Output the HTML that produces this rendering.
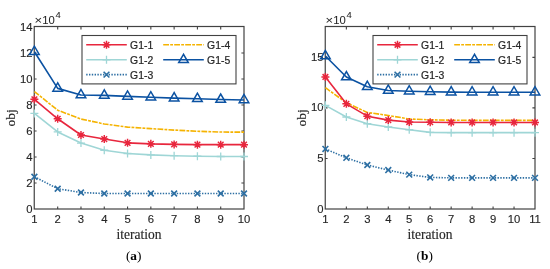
<!DOCTYPE html>
<html><head><meta charset="utf-8"><title>Convergence of objective value</title>
<style>
html,body{margin:0;padding:0;background:#fff;}
body{width:550px;height:269px;overflow:hidden;}
svg{display:block;}
</style></head><body>
<svg width="550" height="269" viewBox="0 0 550 269">
<rect width="550" height="269" fill="#fff"/>
<rect x="34.25" y="26.5" width="209.75" height="182.5" fill="none" stroke="#424242" stroke-width="1.2"/>
<path d="M57.69 209V206.4M57.69 27V29.6M80.98 209V206.4M80.98 27V29.6M104.27 209V206.4M104.27 27V29.6M127.56 209V206.4M127.56 27V29.6M150.84 209V206.4M150.84 27V29.6M174.13 209V206.4M174.13 27V29.6M197.42 209V206.4M197.42 27V29.6M220.71 209V206.4M220.71 27V29.6M34 183H36.6M244 183H241.4M34 157H36.6M244 157H241.4M34 131H36.6M244 131H241.4M34 105H36.6M244 105H241.4M34 79H36.6M244 79H241.4M34 53H36.6M244 53H241.4" stroke="#424242" stroke-width="1.1" fill="none"/>
<g font-family="Liberation Sans, Arial, sans-serif" font-size="10" fill="#262626" stroke="#262626" stroke-width="0.12">
<text transform="translate(34.4 222.6) scale(1.13 1)" text-anchor="middle">1</text>
<text transform="translate(57.69 222.6) scale(1.13 1)" text-anchor="middle">2</text>
<text transform="translate(80.98 222.6) scale(1.13 1)" text-anchor="middle">3</text>
<text transform="translate(104.27 222.6) scale(1.13 1)" text-anchor="middle">4</text>
<text transform="translate(127.56 222.6) scale(1.13 1)" text-anchor="middle">5</text>
<text transform="translate(150.84 222.6) scale(1.13 1)" text-anchor="middle">6</text>
<text transform="translate(174.13 222.6) scale(1.13 1)" text-anchor="middle">7</text>
<text transform="translate(197.42 222.6) scale(1.13 1)" text-anchor="middle">8</text>
<text transform="translate(220.71 222.6) scale(1.13 1)" text-anchor="middle">9</text>
<text transform="translate(244 222.6) scale(1.13 1)" text-anchor="middle">10</text>
<text transform="translate(32.5 212.6) scale(1.13 1)" text-anchor="end">0</text>
<text transform="translate(32.5 186.6) scale(1.13 1)" text-anchor="end">2</text>
<text transform="translate(32.5 160.6) scale(1.13 1)" text-anchor="end">4</text>
<text transform="translate(32.5 134.6) scale(1.13 1)" text-anchor="end">6</text>
<text transform="translate(32.5 108.6) scale(1.13 1)" text-anchor="end">8</text>
<text transform="translate(32.5 82.6) scale(1.13 1)" text-anchor="end">10</text>
<text transform="translate(32.5 56.6) scale(1.13 1)" text-anchor="end">12</text>
<text transform="translate(32.5 30.6) scale(1.13 1)" text-anchor="end">14</text>
<text transform="translate(34.6 24.1) scale(1.13 1)" stroke-width="0.04"><tspan font-size="11.5" dy="0.3" stroke-width="0.05">×</tspan><tspan dy="-0.3">10</tspan><tspan font-size="8.4" dx="0.6" dy="-6.1">4</tspan></text>
</g>
<polyline points="34.4,91.61 57.69,110.2 80.98,119.04 104.27,123.98 127.56,127.1 150.84,128.66 174.13,130.09 197.42,131.26 220.71,132.04 244,132.17" fill="none" stroke="#f5b301" stroke-width="1.6" stroke-linejoin="round" stroke-dasharray="5.8,1.2,2.8,1.2"/>
<polyline points="34.4,176.76 57.69,188.72 80.98,192.49 104.27,193.53 127.56,193.53 150.84,193.53 174.13,193.53 197.42,193.53 220.71,193.53 244,193.53" fill="none" stroke="#2d6fa3" stroke-width="1.6" stroke-linejoin="round" stroke-dasharray="1.4,1.4"/>
<path d="M31.5 173.86L37.3 179.66M31.5 179.66L37.3 173.86" stroke="#2d6fa3" stroke-width="1.6" fill="none"/>
<path d="M54.79 185.82L60.59 191.62M54.79 191.62L60.59 185.82" stroke="#2d6fa3" stroke-width="1.6" fill="none"/>
<path d="M78.08 189.59L83.88 195.39M78.08 195.39L83.88 189.59" stroke="#2d6fa3" stroke-width="1.6" fill="none"/>
<path d="M101.37 190.63L107.17 196.43M101.37 196.43L107.17 190.63" stroke="#2d6fa3" stroke-width="1.6" fill="none"/>
<path d="M124.66 190.63L130.46 196.43M124.66 196.43L130.46 190.63" stroke="#2d6fa3" stroke-width="1.6" fill="none"/>
<path d="M147.94 190.63L153.74 196.43M147.94 196.43L153.74 190.63" stroke="#2d6fa3" stroke-width="1.6" fill="none"/>
<path d="M171.23 190.63L177.03 196.43M171.23 196.43L177.03 190.63" stroke="#2d6fa3" stroke-width="1.6" fill="none"/>
<path d="M194.52 190.63L200.32 196.43M194.52 196.43L200.32 190.63" stroke="#2d6fa3" stroke-width="1.6" fill="none"/>
<path d="M217.81 190.63L223.61 196.43M217.81 196.43L223.61 190.63" stroke="#2d6fa3" stroke-width="1.6" fill="none"/>
<path d="M241.1 190.63L246.9 196.43M241.1 196.43L246.9 190.63" stroke="#2d6fa3" stroke-width="1.6" fill="none"/>
<polyline points="34.4,113.45 57.69,131.91 80.98,143.09 104.27,150.24 127.56,153.49 150.84,154.92 174.13,155.7 197.42,156.22 220.71,156.48 244,156.48" fill="none" stroke="#9fd6d6" stroke-width="1.6" stroke-linejoin="round"/>
<path d="M30.4 113.45L38.4 113.45M34.4 109.45L34.4 117.45" stroke="#9fd6d6" stroke-width="1.3" fill="none"/>
<path d="M53.69 131.91L61.69 131.91M57.69 127.91L57.69 135.91" stroke="#9fd6d6" stroke-width="1.3" fill="none"/>
<path d="M76.98 143.09L84.98 143.09M80.98 139.09L80.98 147.09" stroke="#9fd6d6" stroke-width="1.3" fill="none"/>
<path d="M100.27 150.24L108.27 150.24M104.27 146.24L104.27 154.24" stroke="#9fd6d6" stroke-width="1.3" fill="none"/>
<path d="M123.56 153.49L131.56 153.49M127.56 149.49L127.56 157.49" stroke="#9fd6d6" stroke-width="1.3" fill="none"/>
<path d="M146.84 154.92L154.84 154.92M150.84 150.92L150.84 158.92" stroke="#9fd6d6" stroke-width="1.3" fill="none"/>
<path d="M170.13 155.7L178.13 155.7M174.13 151.7L174.13 159.7" stroke="#9fd6d6" stroke-width="1.3" fill="none"/>
<path d="M193.42 156.22L201.42 156.22M197.42 152.22L197.42 160.22" stroke="#9fd6d6" stroke-width="1.3" fill="none"/>
<path d="M216.71 156.48L224.71 156.48M220.71 152.48L220.71 160.48" stroke="#9fd6d6" stroke-width="1.3" fill="none"/>
<path d="M240 156.48L248 156.48M244 152.48L244 160.48" stroke="#9fd6d6" stroke-width="1.3" fill="none"/>
<polyline points="34.4,99.28 57.69,118.78 80.98,135.03 104.27,139.06 127.56,142.83 150.84,143.87 174.13,144.39 197.42,144.65 220.71,144.65 244,144.65" fill="none" stroke="#e8263d" stroke-width="1.6" stroke-linejoin="round"/>
<path d="M30.4 99.28L38.4 99.28M31.57 96.45L37.23 102.11M34.4 95.28L34.4 103.28M37.23 96.45L31.57 102.11" stroke="#e8263d" stroke-width="1.45" fill="none"/>
<path d="M53.69 118.78L61.69 118.78M54.86 115.95L60.52 121.61M57.69 114.78L57.69 122.78M60.52 115.95L54.86 121.61" stroke="#e8263d" stroke-width="1.45" fill="none"/>
<path d="M76.98 135.03L84.98 135.03M78.15 132.2L83.81 137.86M80.98 131.03L80.98 139.03M83.81 132.2L78.15 137.86" stroke="#e8263d" stroke-width="1.45" fill="none"/>
<path d="M100.27 139.06L108.27 139.06M101.44 136.23L107.1 141.89M104.27 135.06L104.27 143.06M107.1 136.23L101.44 141.89" stroke="#e8263d" stroke-width="1.45" fill="none"/>
<path d="M123.56 142.83L131.56 142.83M124.73 140L130.38 145.66M127.56 138.83L127.56 146.83M130.38 140L124.73 145.66" stroke="#e8263d" stroke-width="1.45" fill="none"/>
<path d="M146.84 143.87L154.84 143.87M148.02 141.04L153.67 146.7M150.84 139.87L150.84 147.87M153.67 141.04L148.02 146.7" stroke="#e8263d" stroke-width="1.45" fill="none"/>
<path d="M170.13 144.39L178.13 144.39M171.3 141.56L176.96 147.22M174.13 140.39L174.13 148.39M176.96 141.56L171.3 147.22" stroke="#e8263d" stroke-width="1.45" fill="none"/>
<path d="M193.42 144.65L201.42 144.65M194.59 141.82L200.25 147.48M197.42 140.65L197.42 148.65M200.25 141.82L194.59 147.48" stroke="#e8263d" stroke-width="1.45" fill="none"/>
<path d="M216.71 144.65L224.71 144.65M217.88 141.82L223.54 147.48M220.71 140.65L220.71 148.65M223.54 141.82L217.88 147.48" stroke="#e8263d" stroke-width="1.45" fill="none"/>
<path d="M240 144.65L248 144.65M241.17 141.82L246.83 147.48M244 140.65L244 148.65M246.83 141.82L241.17 147.48" stroke="#e8263d" stroke-width="1.45" fill="none"/>
<polyline points="34.4,51.7 57.69,88.36 80.98,94.99 104.27,95.38 127.56,96.42 150.84,97.2 174.13,98.11 197.42,98.76 220.71,99.54 244,99.93" fill="none" stroke="#0b52a2" stroke-width="1.6" stroke-linejoin="round"/>
<path d="M34.4 46.16L29.6 54.47L39.2 54.47Z" stroke="#0b52a2" stroke-width="1.5" fill="none" stroke-linejoin="miter"/>
<path d="M57.69 82.82L52.89 91.13L62.49 91.13Z" stroke="#0b52a2" stroke-width="1.5" fill="none" stroke-linejoin="miter"/>
<path d="M80.98 89.45L76.18 97.76L85.78 97.76Z" stroke="#0b52a2" stroke-width="1.5" fill="none" stroke-linejoin="miter"/>
<path d="M104.27 89.84L99.47 98.15L109.07 98.15Z" stroke="#0b52a2" stroke-width="1.5" fill="none" stroke-linejoin="miter"/>
<path d="M127.56 90.88L122.76 99.19L132.36 99.19Z" stroke="#0b52a2" stroke-width="1.5" fill="none" stroke-linejoin="miter"/>
<path d="M150.84 91.66L146.04 99.97L155.64 99.97Z" stroke="#0b52a2" stroke-width="1.5" fill="none" stroke-linejoin="miter"/>
<path d="M174.13 92.57L169.33 100.88L178.93 100.88Z" stroke="#0b52a2" stroke-width="1.5" fill="none" stroke-linejoin="miter"/>
<path d="M197.42 93.22L192.62 101.53L202.22 101.53Z" stroke="#0b52a2" stroke-width="1.5" fill="none" stroke-linejoin="miter"/>
<path d="M220.71 94L215.91 102.31L225.51 102.31Z" stroke="#0b52a2" stroke-width="1.5" fill="none" stroke-linejoin="miter"/>
<path d="M244 94.39L239.2 102.7L248.8 102.7Z" stroke="#0b52a2" stroke-width="1.5" fill="none" stroke-linejoin="miter"/>
<rect x="82" y="35.5" width="154" height="48.4" fill="#fff" stroke="#424242" stroke-width="1.1"/>
<path d="M86.2 44.8H126.8" stroke="#e8263d" stroke-width="1.6" fill="none"/>
<path d="M102.5 44.8L110.5 44.8M103.67 41.97L109.33 47.63M106.5 40.8L106.5 48.8M109.33 41.97L103.67 47.63" stroke="#e8263d" stroke-width="1.45" fill="none"/>
<text transform="translate(130.1 48.7) scale(1.04 1)" font-family="Liberation Sans, Arial, sans-serif" font-size="10" fill="#262626" stroke="#262626" stroke-width="0.2">G1-1</text>
<path d="M86.2 59.8H126.8" stroke="#9fd6d6" stroke-width="1.6" fill="none"/>
<path d="M102.5 59.8L110.5 59.8M106.5 55.8L106.5 63.8" stroke="#9fd6d6" stroke-width="1.3" fill="none"/>
<text transform="translate(130.1 63.7) scale(1.04 1)" font-family="Liberation Sans, Arial, sans-serif" font-size="10" fill="#262626" stroke="#262626" stroke-width="0.2">G1-2</text>
<path d="M86.2 74.6H126.8" stroke="#2d6fa3" stroke-width="1.6" fill="none" stroke-dasharray="1.4,1.4"/>
<path d="M103.6 71.7L109.4 77.5M103.6 77.5L109.4 71.7" stroke="#2d6fa3" stroke-width="1.6" fill="none"/>
<text transform="translate(130.1 78.5) scale(1.04 1)" font-family="Liberation Sans, Arial, sans-serif" font-size="10" fill="#262626" stroke="#262626" stroke-width="0.2">G1-3</text>
<path d="M163.2 44.8H203.8" stroke="#f5b301" stroke-width="1.6" fill="none" stroke-dasharray="5.8,1.2,2.8,1.2"/>
<text transform="translate(207.1 48.7) scale(1.04 1)" font-family="Liberation Sans, Arial, sans-serif" font-size="10" fill="#262626" stroke="#262626" stroke-width="0.2">G1-4</text>
<path d="M163.2 59.8H203.8" stroke="#0b52a2" stroke-width="1.6" fill="none"/>
<path d="M183.5 54.26L178.7 62.57L188.3 62.57Z" stroke="#0b52a2" stroke-width="1.5" fill="none" stroke-linejoin="miter"/>
<text transform="translate(207.1 63.7) scale(1.04 1)" font-family="Liberation Sans, Arial, sans-serif" font-size="10" fill="#262626" stroke="#262626" stroke-width="0.2">G1-5</text>
<text transform="translate(15.3 117.8) rotate(-90)" text-anchor="middle" font-family="Liberation Serif, Times New Roman, serif" font-size="13.5" fill="#262626" stroke="#262626" stroke-width="0.2">obj</text>
<text transform="translate(139 238.9) scale(0.965 1)" text-anchor="middle" font-family="Liberation Serif, Times New Roman, serif" font-size="14" fill="#262626" stroke="#262626" stroke-width="0.15">iteration</text>
<text x="133.7" y="260.1" text-anchor="middle" font-family="Liberation Serif, Times New Roman, serif" font-size="13.3" fill="#000">(<tspan font-weight="bold">a</tspan>)</text>
<rect x="325.25" y="26.5" width="209.75" height="182.5" fill="none" stroke="#424242" stroke-width="1.2"/>
<path d="M346.36 209V206.4M346.36 27V29.6M367.32 209V206.4M367.32 27V29.6M388.28 209V206.4M388.28 27V29.6M409.24 209V206.4M409.24 27V29.6M430.2 209V206.4M430.2 27V29.6M451.16 209V206.4M451.16 27V29.6M472.12 209V206.4M472.12 27V29.6M493.08 209V206.4M493.08 27V29.6M514.04 209V206.4M514.04 27V29.6M325 158.44H327.6M535 158.44H532.4M325 107.89H327.6M535 107.89H532.4M325 57.33H327.6M535 57.33H532.4" stroke="#424242" stroke-width="1.1" fill="none"/>
<g font-family="Liberation Sans, Arial, sans-serif" font-size="10" fill="#262626" stroke="#262626" stroke-width="0.12">
<text transform="translate(325.4 222.6) scale(1.13 1)" text-anchor="middle">1</text>
<text transform="translate(346.36 222.6) scale(1.13 1)" text-anchor="middle">2</text>
<text transform="translate(367.32 222.6) scale(1.13 1)" text-anchor="middle">3</text>
<text transform="translate(388.28 222.6) scale(1.13 1)" text-anchor="middle">4</text>
<text transform="translate(409.24 222.6) scale(1.13 1)" text-anchor="middle">5</text>
<text transform="translate(430.2 222.6) scale(1.13 1)" text-anchor="middle">6</text>
<text transform="translate(451.16 222.6) scale(1.13 1)" text-anchor="middle">7</text>
<text transform="translate(472.12 222.6) scale(1.13 1)" text-anchor="middle">8</text>
<text transform="translate(493.08 222.6) scale(1.13 1)" text-anchor="middle">9</text>
<text transform="translate(514.04 222.6) scale(1.13 1)" text-anchor="middle">10</text>
<text transform="translate(535 222.6) scale(1.13 1)" text-anchor="middle">11</text>
<text transform="translate(323.5 212.6) scale(1.13 1)" text-anchor="end">0</text>
<text transform="translate(323.5 162.04) scale(1.13 1)" text-anchor="end">5</text>
<text transform="translate(323.5 111.49) scale(1.13 1)" text-anchor="end">10</text>
<text transform="translate(323.5 60.93) scale(1.13 1)" text-anchor="end">15</text>
<text transform="translate(325.6 24.1) scale(1.13 1)" stroke-width="0.04"><tspan font-size="11.5" dy="0.3" stroke-width="0.05">×</tspan><tspan dy="-0.3">10</tspan><tspan font-size="8.4" dx="0.6" dy="-6.1">4</tspan></text>
</g>
<polyline points="325.4,87.67 346.36,102.83 367.32,112.44 388.28,115.47 409.24,119.01 430.2,119.82 451.16,120.22 472.12,120.33 493.08,120.33 514.04,120.33 535,120.33" fill="none" stroke="#f5b301" stroke-width="1.6" stroke-linejoin="round" stroke-dasharray="5.8,1.2,2.8,1.2"/>
<polyline points="325.4,148.94 346.36,157.84 367.32,165.02 388.28,170.07 409.24,174.62 430.2,177.45 451.16,177.86 472.12,177.86 493.08,177.86 514.04,177.86 535,177.86" fill="none" stroke="#2d6fa3" stroke-width="1.6" stroke-linejoin="round" stroke-dasharray="1.4,1.4"/>
<path d="M322.5 146.04L328.3 151.84M322.5 151.84L328.3 146.04" stroke="#2d6fa3" stroke-width="1.6" fill="none"/>
<path d="M343.46 154.94L349.26 160.74M343.46 160.74L349.26 154.94" stroke="#2d6fa3" stroke-width="1.6" fill="none"/>
<path d="M364.42 162.12L370.22 167.92M364.42 167.92L370.22 162.12" stroke="#2d6fa3" stroke-width="1.6" fill="none"/>
<path d="M385.38 167.17L391.18 172.97M385.38 172.97L391.18 167.17" stroke="#2d6fa3" stroke-width="1.6" fill="none"/>
<path d="M406.34 171.72L412.14 177.52M406.34 177.52L412.14 171.72" stroke="#2d6fa3" stroke-width="1.6" fill="none"/>
<path d="M427.3 174.55L433.1 180.35M427.3 180.35L433.1 174.55" stroke="#2d6fa3" stroke-width="1.6" fill="none"/>
<path d="M448.26 174.96L454.06 180.76M448.26 180.76L454.06 174.96" stroke="#2d6fa3" stroke-width="1.6" fill="none"/>
<path d="M469.22 174.96L475.02 180.76M469.22 180.76L475.02 174.96" stroke="#2d6fa3" stroke-width="1.6" fill="none"/>
<path d="M490.18 174.96L495.98 180.76M490.18 180.76L495.98 174.96" stroke="#2d6fa3" stroke-width="1.6" fill="none"/>
<path d="M511.14 174.96L516.94 180.76M511.14 180.76L516.94 174.96" stroke="#2d6fa3" stroke-width="1.6" fill="none"/>
<path d="M532.1 174.96L537.9 180.76M532.1 180.76L537.9 174.96" stroke="#2d6fa3" stroke-width="1.6" fill="none"/>
<polyline points="325.4,105.36 346.36,116.99 367.32,123.76 388.28,127 409.24,129.73 430.2,132.36 451.16,132.66 472.12,132.66 493.08,132.66 514.04,132.66 535,132.66" fill="none" stroke="#9fd6d6" stroke-width="1.6" stroke-linejoin="round"/>
<path d="M321.4 105.36L329.4 105.36M325.4 101.36L325.4 109.36" stroke="#9fd6d6" stroke-width="1.3" fill="none"/>
<path d="M342.36 116.99L350.36 116.99M346.36 112.99L346.36 120.99" stroke="#9fd6d6" stroke-width="1.3" fill="none"/>
<path d="M363.32 123.76L371.32 123.76M367.32 119.76L367.32 127.76" stroke="#9fd6d6" stroke-width="1.3" fill="none"/>
<path d="M384.28 127L392.28 127M388.28 123L388.28 131" stroke="#9fd6d6" stroke-width="1.3" fill="none"/>
<path d="M405.24 129.73L413.24 129.73M409.24 125.73L409.24 133.73" stroke="#9fd6d6" stroke-width="1.3" fill="none"/>
<path d="M426.2 132.36L434.2 132.36M430.2 128.36L430.2 136.36" stroke="#9fd6d6" stroke-width="1.3" fill="none"/>
<path d="M447.16 132.66L455.16 132.66M451.16 128.66L451.16 136.66" stroke="#9fd6d6" stroke-width="1.3" fill="none"/>
<path d="M468.12 132.66L476.12 132.66M472.12 128.66L472.12 136.66" stroke="#9fd6d6" stroke-width="1.3" fill="none"/>
<path d="M489.08 132.66L497.08 132.66M493.08 128.66L493.08 136.66" stroke="#9fd6d6" stroke-width="1.3" fill="none"/>
<path d="M510.04 132.66L518.04 132.66M514.04 128.66L514.04 136.66" stroke="#9fd6d6" stroke-width="1.3" fill="none"/>
<path d="M531 132.66L539 132.66M535 128.66L535 136.66" stroke="#9fd6d6" stroke-width="1.3" fill="none"/>
<polyline points="325.4,76.95 346.36,103.84 367.32,116.18 388.28,120.12 409.24,122.04 430.2,122.25 451.16,122.45 472.12,122.45 493.08,122.45 514.04,122.45 535,122.45" fill="none" stroke="#e8263d" stroke-width="1.6" stroke-linejoin="round"/>
<path d="M321.4 76.95L329.4 76.95M322.57 74.12L328.23 79.78M325.4 72.95L325.4 80.95M328.23 74.12L322.57 79.78" stroke="#e8263d" stroke-width="1.45" fill="none"/>
<path d="M342.36 103.84L350.36 103.84M343.53 101.02L349.19 106.67M346.36 99.84L346.36 107.84M349.19 101.02L343.53 106.67" stroke="#e8263d" stroke-width="1.45" fill="none"/>
<path d="M363.32 116.18L371.32 116.18M364.49 113.35L370.15 119.01M367.32 112.18L367.32 120.18M370.15 113.35L364.49 119.01" stroke="#e8263d" stroke-width="1.45" fill="none"/>
<path d="M384.28 120.12L392.28 120.12M385.45 117.29L391.11 122.95M388.28 116.12L388.28 124.12M391.11 117.29L385.45 122.95" stroke="#e8263d" stroke-width="1.45" fill="none"/>
<path d="M405.24 122.04L413.24 122.04M406.41 119.22L412.07 124.87M409.24 118.04L409.24 126.04M412.07 119.22L406.41 124.87" stroke="#e8263d" stroke-width="1.45" fill="none"/>
<path d="M426.2 122.25L434.2 122.25M427.37 119.42L433.03 125.08M430.2 118.25L430.2 126.25M433.03 119.42L427.37 125.08" stroke="#e8263d" stroke-width="1.45" fill="none"/>
<path d="M447.16 122.45L455.16 122.45M448.33 119.62L453.99 125.28M451.16 118.45L451.16 126.45M453.99 119.62L448.33 125.28" stroke="#e8263d" stroke-width="1.45" fill="none"/>
<path d="M468.12 122.45L476.12 122.45M469.29 119.62L474.95 125.28M472.12 118.45L472.12 126.45M474.95 119.62L469.29 125.28" stroke="#e8263d" stroke-width="1.45" fill="none"/>
<path d="M489.08 122.45L497.08 122.45M490.25 119.62L495.91 125.28M493.08 118.45L493.08 126.45M495.91 119.62L490.25 125.28" stroke="#e8263d" stroke-width="1.45" fill="none"/>
<path d="M510.04 122.45L518.04 122.45M511.21 119.62L516.87 125.28M514.04 118.45L514.04 126.45M516.87 119.62L511.21 125.28" stroke="#e8263d" stroke-width="1.45" fill="none"/>
<path d="M531 122.45L539 122.45M532.17 119.62L537.83 125.28M535 118.45L535 126.45M537.83 119.62L532.17 125.28" stroke="#e8263d" stroke-width="1.45" fill="none"/>
<polyline points="325.4,56.02 346.36,77.05 367.32,86.76 388.28,90.5 409.24,91.21 430.2,91.71 451.16,92.12 472.12,92.22 493.08,92.22 514.04,92.22 535,92.22" fill="none" stroke="#0b52a2" stroke-width="1.6" stroke-linejoin="round"/>
<path d="M325.4 50.48L320.6 58.79L330.2 58.79Z" stroke="#0b52a2" stroke-width="1.5" fill="none" stroke-linejoin="miter"/>
<path d="M346.36 71.51L341.56 79.82L351.16 79.82Z" stroke="#0b52a2" stroke-width="1.5" fill="none" stroke-linejoin="miter"/>
<path d="M367.32 81.21L362.52 89.53L372.12 89.53Z" stroke="#0b52a2" stroke-width="1.5" fill="none" stroke-linejoin="miter"/>
<path d="M388.28 84.96L383.48 93.27L393.08 93.27Z" stroke="#0b52a2" stroke-width="1.5" fill="none" stroke-linejoin="miter"/>
<path d="M409.24 85.66L404.44 93.98L414.04 93.98Z" stroke="#0b52a2" stroke-width="1.5" fill="none" stroke-linejoin="miter"/>
<path d="M430.2 86.17L425.4 94.48L435 94.48Z" stroke="#0b52a2" stroke-width="1.5" fill="none" stroke-linejoin="miter"/>
<path d="M451.16 86.57L446.36 94.89L455.96 94.89Z" stroke="#0b52a2" stroke-width="1.5" fill="none" stroke-linejoin="miter"/>
<path d="M472.12 86.67L467.32 94.99L476.92 94.99Z" stroke="#0b52a2" stroke-width="1.5" fill="none" stroke-linejoin="miter"/>
<path d="M493.08 86.67L488.28 94.99L497.88 94.99Z" stroke="#0b52a2" stroke-width="1.5" fill="none" stroke-linejoin="miter"/>
<path d="M514.04 86.67L509.24 94.99L518.84 94.99Z" stroke="#0b52a2" stroke-width="1.5" fill="none" stroke-linejoin="miter"/>
<path d="M535 86.67L530.2 94.99L539.8 94.99Z" stroke="#0b52a2" stroke-width="1.5" fill="none" stroke-linejoin="miter"/>
<rect x="373" y="35.5" width="154" height="48.4" fill="#fff" stroke="#424242" stroke-width="1.1"/>
<path d="M377.2 44.8H417.8" stroke="#e8263d" stroke-width="1.6" fill="none"/>
<path d="M393.5 44.8L401.5 44.8M394.67 41.97L400.33 47.63M397.5 40.8L397.5 48.8M400.33 41.97L394.67 47.63" stroke="#e8263d" stroke-width="1.45" fill="none"/>
<text transform="translate(421.1 48.7) scale(1.04 1)" font-family="Liberation Sans, Arial, sans-serif" font-size="10" fill="#262626" stroke="#262626" stroke-width="0.2">G1-1</text>
<path d="M377.2 59.8H417.8" stroke="#9fd6d6" stroke-width="1.6" fill="none"/>
<path d="M393.5 59.8L401.5 59.8M397.5 55.8L397.5 63.8" stroke="#9fd6d6" stroke-width="1.3" fill="none"/>
<text transform="translate(421.1 63.7) scale(1.04 1)" font-family="Liberation Sans, Arial, sans-serif" font-size="10" fill="#262626" stroke="#262626" stroke-width="0.2">G1-2</text>
<path d="M377.2 74.6H417.8" stroke="#2d6fa3" stroke-width="1.6" fill="none" stroke-dasharray="1.4,1.4"/>
<path d="M394.6 71.7L400.4 77.5M394.6 77.5L400.4 71.7" stroke="#2d6fa3" stroke-width="1.6" fill="none"/>
<text transform="translate(421.1 78.5) scale(1.04 1)" font-family="Liberation Sans, Arial, sans-serif" font-size="10" fill="#262626" stroke="#262626" stroke-width="0.2">G1-3</text>
<path d="M454.2 44.8H494.8" stroke="#f5b301" stroke-width="1.6" fill="none" stroke-dasharray="5.8,1.2,2.8,1.2"/>
<text transform="translate(498.1 48.7) scale(1.04 1)" font-family="Liberation Sans, Arial, sans-serif" font-size="10" fill="#262626" stroke="#262626" stroke-width="0.2">G1-4</text>
<path d="M454.2 59.8H494.8" stroke="#0b52a2" stroke-width="1.6" fill="none"/>
<path d="M474.5 54.26L469.7 62.57L479.3 62.57Z" stroke="#0b52a2" stroke-width="1.5" fill="none" stroke-linejoin="miter"/>
<text transform="translate(498.1 63.7) scale(1.04 1)" font-family="Liberation Sans, Arial, sans-serif" font-size="10" fill="#262626" stroke="#262626" stroke-width="0.2">G1-5</text>
<text transform="translate(306.3 117.8) rotate(-90)" text-anchor="middle" font-family="Liberation Serif, Times New Roman, serif" font-size="13.5" fill="#262626" stroke="#262626" stroke-width="0.2">obj</text>
<text transform="translate(430 238.9) scale(0.965 1)" text-anchor="middle" font-family="Liberation Serif, Times New Roman, serif" font-size="14" fill="#262626" stroke="#262626" stroke-width="0.15">iteration</text>
<text x="424.7" y="260.1" text-anchor="middle" font-family="Liberation Serif, Times New Roman, serif" font-size="13.3" fill="#000">(<tspan font-weight="bold">b</tspan>)</text>
</svg>
</body></html>
